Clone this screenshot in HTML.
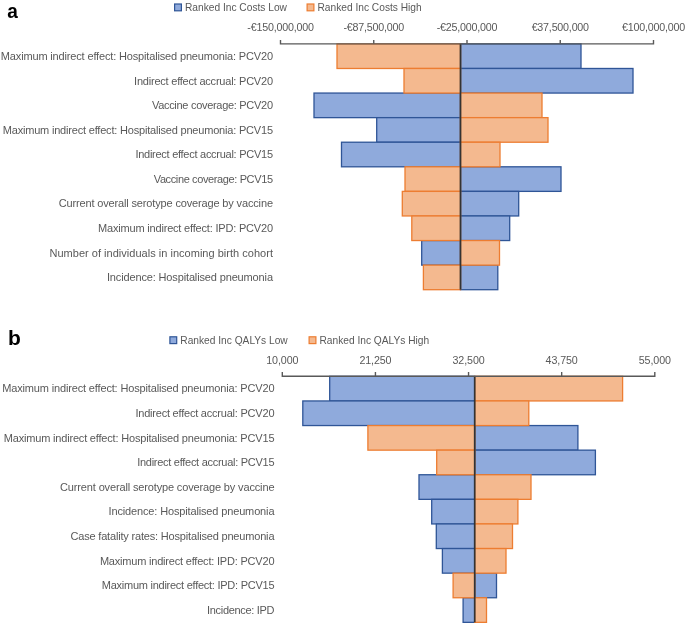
<!DOCTYPE html>
<html><head><meta charset="utf-8"><style>
html,body{margin:0;padding:0;background:#fff;}
svg{display:block;font-family:"Liberation Sans", sans-serif;will-change:transform;}
</style></head><body>
<svg width="685" height="627" viewBox="0 0 685 627">
<text x="7.3" y="18" font-size="21" font-weight="bold" fill="#000" textLength="10.6" lengthAdjust="spacingAndGlyphs">a</text>
<rect x="460.50" y="43.90" width="120.50" height="24.58" fill="#8FAADC" stroke="#2F5597" stroke-width="1.3"/>
<rect x="460.50" y="68.48" width="172.50" height="24.58" fill="#8FAADC" stroke="#2F5597" stroke-width="1.3"/>
<rect x="314.00" y="93.06" width="146.50" height="24.58" fill="#8FAADC" stroke="#2F5597" stroke-width="1.3"/>
<rect x="376.70" y="117.64" width="83.80" height="24.58" fill="#8FAADC" stroke="#2F5597" stroke-width="1.3"/>
<rect x="341.50" y="142.22" width="119.00" height="24.58" fill="#8FAADC" stroke="#2F5597" stroke-width="1.3"/>
<rect x="460.50" y="166.80" width="100.50" height="24.58" fill="#8FAADC" stroke="#2F5597" stroke-width="1.3"/>
<rect x="460.50" y="191.38" width="58.20" height="24.58" fill="#8FAADC" stroke="#2F5597" stroke-width="1.3"/>
<rect x="460.50" y="215.96" width="49.20" height="24.58" fill="#8FAADC" stroke="#2F5597" stroke-width="1.3"/>
<rect x="421.70" y="240.54" width="38.80" height="24.58" fill="#8FAADC" stroke="#2F5597" stroke-width="1.3"/>
<rect x="460.50" y="265.12" width="37.30" height="24.58" fill="#8FAADC" stroke="#2F5597" stroke-width="1.3"/>
<rect x="337.00" y="43.90" width="123.50" height="24.58" fill="#F4B98F" stroke="#ED7D31" stroke-width="1.3"/>
<rect x="404.00" y="68.48" width="56.50" height="24.58" fill="#F4B98F" stroke="#ED7D31" stroke-width="1.3"/>
<rect x="460.50" y="93.06" width="81.50" height="24.58" fill="#F4B98F" stroke="#ED7D31" stroke-width="1.3"/>
<rect x="460.50" y="117.64" width="87.50" height="24.58" fill="#F4B98F" stroke="#ED7D31" stroke-width="1.3"/>
<rect x="460.50" y="142.22" width="39.50" height="24.58" fill="#F4B98F" stroke="#ED7D31" stroke-width="1.3"/>
<rect x="405.00" y="166.80" width="55.50" height="24.58" fill="#F4B98F" stroke="#ED7D31" stroke-width="1.3"/>
<rect x="402.30" y="191.38" width="58.20" height="24.58" fill="#F4B98F" stroke="#ED7D31" stroke-width="1.3"/>
<rect x="411.80" y="215.96" width="48.70" height="24.58" fill="#F4B98F" stroke="#ED7D31" stroke-width="1.3"/>
<rect x="460.50" y="240.54" width="39.00" height="24.58" fill="#F4B98F" stroke="#ED7D31" stroke-width="1.3"/>
<rect x="423.40" y="265.12" width="37.10" height="24.58" fill="#F4B98F" stroke="#ED7D31" stroke-width="1.3"/>
<line x1="460.5" y1="43.85" x2="460.5" y2="289.70" stroke="#333" stroke-width="1.7"/>
<path d="M280.50 40.00 V43.85 H653.50 V40.00" fill="none" stroke="#595959" stroke-width="1.4"/>
<line x1="373.75" y1="40.00" x2="373.75" y2="43.85" stroke="#595959" stroke-width="1.4"/>
<line x1="467.00" y1="40.00" x2="467.00" y2="43.85" stroke="#595959" stroke-width="1.4"/>
<line x1="560.25" y1="40.00" x2="560.25" y2="43.85" stroke="#595959" stroke-width="1.4"/>
<g font-size="11.0" fill="#595959">
<text x="273" y="59.99" text-anchor="end" textLength="272.17">Maximum indirect effect: Hospitalised pneumonia: PCV20</text>
<text x="273" y="84.57" text-anchor="end" textLength="138.89">Indirect effect accrual: PCV20</text>
<text x="273" y="109.15" text-anchor="end" textLength="121.07">Vaccine coverage: PCV20</text>
<text x="273" y="133.73" text-anchor="end" textLength="270.27">Maximum indirect effect: Hospitalised pneumonia: PCV15</text>
<text x="273" y="158.31" text-anchor="end" textLength="137.59">Indirect effect accrual: PCV15</text>
<text x="273" y="182.89" text-anchor="end" textLength="119.27">Vaccine coverage: PCV15</text>
<text x="273" y="207.47" text-anchor="end" textLength="214.35">Current overall serotype coverage by vaccine</text>
<text x="273" y="232.05" text-anchor="end" textLength="174.92">Maximum indirect effect: IPD: PCV20</text>
<text x="273" y="256.63" text-anchor="end" textLength="223.53">Number of individuals in incoming birth cohort</text>
<text x="273" y="281.21" text-anchor="end" textLength="166.07">Incidence: Hospitalised pneumonia</text>
<text font-size="10.7" x="280.50" y="30.7" text-anchor="middle" letter-spacing="-0.2">-€150,000,000</text>
<text font-size="10.7" x="373.75" y="30.7" text-anchor="middle" letter-spacing="-0.2">-€87,500,000</text>
<text font-size="10.7" x="467.00" y="30.7" text-anchor="middle" letter-spacing="-0.2">-€25,000,000</text>
<text font-size="10.7" x="560.25" y="30.7" text-anchor="middle" letter-spacing="-0.2">€37,500,000</text>
<text font-size="10.7" x="653.50" y="30.7" text-anchor="middle" letter-spacing="-0.2">€100,000,000</text>
</g>
<g font-size="10.2" fill="#595959">
<rect x="174.60" y="4.00" width="6.8" height="6.8" fill="#8FAADC" stroke="#2F5597" stroke-width="1.2"/>
<text x="185" y="10.8">Ranked Inc Costs Low</text>
<rect x="307.10" y="4.00" width="6.8" height="6.8" fill="#F4B98F" stroke="#ED7D31" stroke-width="1.2"/>
<text x="317.5" y="10.8">Ranked Inc Costs High</text>
</g>
<text x="8" y="344.7" font-size="21" font-weight="bold" fill="#000">b</text>
<rect x="329.70" y="376.35" width="145.00" height="24.60" fill="#8FAADC" stroke="#2F5597" stroke-width="1.3"/>
<rect x="302.80" y="400.95" width="171.90" height="24.60" fill="#8FAADC" stroke="#2F5597" stroke-width="1.3"/>
<rect x="474.70" y="425.55" width="103.20" height="24.60" fill="#8FAADC" stroke="#2F5597" stroke-width="1.3"/>
<rect x="474.70" y="450.15" width="120.70" height="24.60" fill="#8FAADC" stroke="#2F5597" stroke-width="1.3"/>
<rect x="419.00" y="474.75" width="55.70" height="24.60" fill="#8FAADC" stroke="#2F5597" stroke-width="1.3"/>
<rect x="431.70" y="499.35" width="43.00" height="24.60" fill="#8FAADC" stroke="#2F5597" stroke-width="1.3"/>
<rect x="436.30" y="523.95" width="38.40" height="24.60" fill="#8FAADC" stroke="#2F5597" stroke-width="1.3"/>
<rect x="442.40" y="548.55" width="32.30" height="24.60" fill="#8FAADC" stroke="#2F5597" stroke-width="1.3"/>
<rect x="474.70" y="573.15" width="21.80" height="24.60" fill="#8FAADC" stroke="#2F5597" stroke-width="1.3"/>
<rect x="463.10" y="597.75" width="11.60" height="24.60" fill="#8FAADC" stroke="#2F5597" stroke-width="1.3"/>
<rect x="474.70" y="376.35" width="147.90" height="24.60" fill="#F4B98F" stroke="#ED7D31" stroke-width="1.3"/>
<rect x="474.70" y="400.95" width="54.10" height="24.60" fill="#F4B98F" stroke="#ED7D31" stroke-width="1.3"/>
<rect x="367.90" y="425.55" width="106.80" height="24.60" fill="#F4B98F" stroke="#ED7D31" stroke-width="1.3"/>
<rect x="436.70" y="450.15" width="38.00" height="24.60" fill="#F4B98F" stroke="#ED7D31" stroke-width="1.3"/>
<rect x="474.70" y="474.75" width="56.30" height="24.60" fill="#F4B98F" stroke="#ED7D31" stroke-width="1.3"/>
<rect x="474.70" y="499.35" width="43.20" height="24.60" fill="#F4B98F" stroke="#ED7D31" stroke-width="1.3"/>
<rect x="474.70" y="523.95" width="37.80" height="24.60" fill="#F4B98F" stroke="#ED7D31" stroke-width="1.3"/>
<rect x="474.70" y="548.55" width="31.30" height="24.60" fill="#F4B98F" stroke="#ED7D31" stroke-width="1.3"/>
<rect x="453.10" y="573.15" width="21.60" height="24.60" fill="#F4B98F" stroke="#ED7D31" stroke-width="1.3"/>
<rect x="474.70" y="597.75" width="11.80" height="24.60" fill="#F4B98F" stroke="#ED7D31" stroke-width="1.3"/>
<line x1="474.7" y1="376.3" x2="474.7" y2="622.35" stroke="#333" stroke-width="1.7"/>
<path d="M282.30 372.00 V376.30 H654.80 V372.00" fill="none" stroke="#595959" stroke-width="1.4"/>
<line x1="375.43" y1="372.00" x2="375.43" y2="376.30" stroke="#595959" stroke-width="1.4"/>
<line x1="468.55" y1="372.00" x2="468.55" y2="376.30" stroke="#595959" stroke-width="1.4"/>
<line x1="561.67" y1="372.00" x2="561.67" y2="376.30" stroke="#595959" stroke-width="1.4"/>
<g font-size="11.0" fill="#595959">
<text x="274.5" y="392.45" text-anchor="end" textLength="272.27">Maximum indirect effect: Hospitalised pneumonia: PCV20</text>
<text x="274.5" y="417.05" text-anchor="end" textLength="139.09">Indirect effect accrual: PCV20</text>
<text x="274.5" y="441.65" text-anchor="end" textLength="270.77">Maximum indirect effect: Hospitalised pneumonia: PCV15</text>
<text x="274.5" y="466.25" text-anchor="end" textLength="137.29">Indirect effect accrual: PCV15</text>
<text x="274.5" y="490.85" text-anchor="end" textLength="214.45">Current overall serotype coverage by vaccine</text>
<text x="274.5" y="515.45" text-anchor="end" textLength="165.97">Incidence: Hospitalised pneumonia</text>
<text x="274.5" y="540.05" text-anchor="end" textLength="204.05">Case fatality rates: Hospitalised pneumonia</text>
<text x="274.5" y="564.65" text-anchor="end" textLength="174.62">Maximum indirect effect: IPD: PCV20</text>
<text x="274.5" y="589.25" text-anchor="end" textLength="172.72">Maximum indirect effect: IPD: PCV15</text>
<text x="274.5" y="613.85" text-anchor="end" textLength="67.42">Incidence: IPD</text>
<text font-size="10.7" x="282.30" y="363.5" text-anchor="middle" letter-spacing="-0.1">10,000</text>
<text font-size="10.7" x="375.43" y="363.5" text-anchor="middle" letter-spacing="-0.1">21,250</text>
<text font-size="10.7" x="468.55" y="363.5" text-anchor="middle" letter-spacing="-0.1">32,500</text>
<text font-size="10.7" x="561.67" y="363.5" text-anchor="middle" letter-spacing="-0.1">43,750</text>
<text font-size="10.7" x="654.80" y="363.5" text-anchor="middle" letter-spacing="-0.1">55,000</text>
</g>
<g font-size="10.2" fill="#595959">
<rect x="169.90" y="336.80" width="6.8" height="6.8" fill="#8FAADC" stroke="#2F5597" stroke-width="1.2"/>
<text x="180.3" y="343.6">Ranked Inc QALYs Low</text>
<rect x="309.10" y="336.80" width="6.8" height="6.8" fill="#F4B98F" stroke="#ED7D31" stroke-width="1.2"/>
<text x="319.5" y="343.6">Ranked Inc QALYs High</text>
</g>
</svg>
</body></html>
